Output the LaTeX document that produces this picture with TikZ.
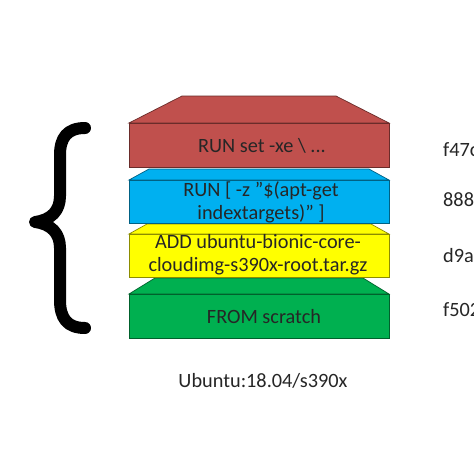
\documentclass[tikz,border=0pt]{standalone}
\usepackage{fontspec}
\setmainfont{Carlito}
\definecolor{cred}{HTML}{C0504D}
\definecolor{cblue}{HTML}{00B0F0}
\definecolor{cyellow}{HTML}{FFFF00}
\definecolor{cgreen}{HTML}{00B050}
\tikzset{
  blockfill/.style={fill=#1, draw=#1!55!black, line width=0.7pt, line join=miter},
  lbl/.style={font=\fontsize{20.3}{23}\selectfont, align=center, inner sep=0pt, text=black!85},
  hash/.style={font=\fontsize{20.3}{23}\selectfont, anchor=west, inner sep=0pt, text=black!85},
}
\begin{document}
\begin{tikzpicture}[x=1pt, y=-1pt]
\useasboundingbox (0,0) rectangle (474,474);
\fill[white] (0,0) rectangle (474,474);
% green block
\draw[blockfill=cgreen] (129,294) -- (155,278) -- (363,278) -- (389,294) -- cycle;
\draw[blockfill=cgreen] (129,294) rectangle (389,338);
% yellow block
\draw[blockfill=cyellow] (129,234) -- (147,224) -- (371,224) -- (389,234) -- cycle;
\draw[blockfill=cyellow] (129,234) rectangle (389,277);
% blue block
\draw[blockfill=cblue] (129,180) -- (149,169) -- (369,169) -- (389,180) -- cycle;
\draw[blockfill=cblue] (129,180) rectangle (389,223);
% red block
\draw[blockfill=cred] (129,123) -- (182,96) -- (336,96) -- (389,123) -- cycle;
\draw[blockfill=cred] (129,123) rectangle (389,167);
% texts
\node[lbl] (t1) at (262,146) {RUN set -xe \textbackslash\ ...};
\node[lbl] (t2) at (261,202) {RUN [ -z \char34\$(apt-get\\indextargets)\char34\ ]};
\node[lbl] (t3) at (258,255) {ADD ubuntu-bionic-core-\\cloudimg-s390x-root.tar.gz};
\node[lbl] (t4) at (264,317) {FROM scratch};
\node[lbl] (base) at (263,381) {Ubuntu:18.04/s390x};
% hashes
\node[hash] (h1) at (443,150) {f47c};
\node[hash] (h2) at (443,200) {888e};
\node[hash] (h3) at (443,256) {d9a6};
\node[hash] (h4) at (443,310) {f502};
% brace
\draw[line width=12pt, line cap=round, line join=round]
  (85,128) .. controls (67,128) and (60,138) .. (60,155) -- (60,196)
  .. controls (60,211) and (51,220) .. (35,222)
  .. controls (51,224) and (60,233) .. (60,248) -- (60,300)
  .. controls (60,318) and (67,328) .. (85,328);
\end{tikzpicture}
\end{document}
